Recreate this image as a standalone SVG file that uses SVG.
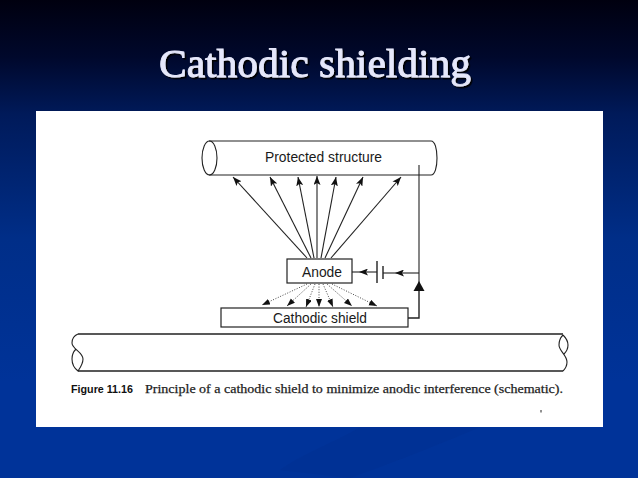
<svg xmlns="http://www.w3.org/2000/svg" width="638" height="478" viewBox="0 0 638 478">
<style>
.l{fill:none;stroke:#222;stroke-width:1.1}
.d{fill:none;stroke:#333;stroke-width:.9;stroke-dasharray:1 1.6}
.b{fill:#fff;stroke:#222;stroke-width:1.2}
.t{font-family:"Liberation Sans",Arial,sans-serif;font-size:14px;fill:#1a1a1a}
</style>
<defs>
<linearGradient id="bg" x1="0" y1="0" x2="0" y2="1">
<stop offset="0" stop-color="#00000f"/><stop offset=".12" stop-color="#00082c"/><stop offset=".24" stop-color="#001a5a"/><stop offset=".5" stop-color="#002e88"/><stop offset=".8" stop-color="#003399"/><stop offset="1" stop-color="#003399"/>
</linearGradient>
<filter id="sh" x="-5%" y="-20%" width="110%" height="140%"><feDropShadow dx="1.6" dy="1.6" stdDeviation=".3" flood-color="#000"/></filter>
<marker id="a" markerWidth="10" markerHeight="7" refX="9" refY="3.500" orient="auto" markerUnits="userSpaceOnUse"><path d="M0 0L9 3.500L0 7L2 3.500Z" fill="#111"/></marker>
<marker id="s" markerWidth="9" markerHeight="7" refX="8" refY="3" orient="auto" markerUnits="userSpaceOnUse"><path d="M0 0L8 3L0 6Z" fill="#111"/></marker>
</defs>
<rect width="638" height="478" fill="url(#bg)"/>
<path d="M350 478C400 460 450 440 480 427H360C340 440 300 455 280 470Z" fill="#002f8e" opacity=".4"/>
<text id="title" x="159" y="77" font-family="Liberation Serif,serif" font-size="41" fill="#e6e8fb" stroke="#e6e8fb" stroke-width=".9" textLength="312" lengthAdjust="spacingAndGlyphs" filter="url(#sh)">Cathodic shielding</text>
<rect id="panel" x="36" y="111" width="567" height="316" fill="#fff"/>
<g id="protected-structure">
<path class="l" d="M209 141H431C435 141 437 149 437 158C437 167 435 175 431 175H209"/>
<ellipse class="l" cx="209.500" cy="158" rx="7.500" ry="17"/>
<text class="t" x="265" y="162" textLength="117" lengthAdjust="spacingAndGlyphs">Protected structure</text>
</g>
<g id="connectors">
<path class="l" marker-end="url(#a)" d="M307 258L233 177"/>
<path class="l" marker-end="url(#a)" d="M311 258L270 177"/>
<path class="l" marker-end="url(#a)" d="M314 258L298 177"/>
<path class="l" marker-end="url(#a)" d="M317 258V176"/>
<path class="l" marker-end="url(#a)" d="M321 258L336 177"/>
<path class="l" marker-end="url(#a)" d="M325 258L363 177"/>
<path class="l" marker-end="url(#a)" d="M331 258L401 177"/>
<path class="d" marker-end="url(#s)" d="M307 284L262 305"/>
<path class="d" marker-end="url(#s)" d="M311 284L287 306"/>
<path class="d" marker-end="url(#s)" d="M315 284L306 307"/>
<path class="d" marker-end="url(#s)" d="M319 284V307"/>
<path class="d" marker-end="url(#s)" d="M323 284L333 307"/>
<path class="d" marker-end="url(#s)" d="M327 284L352 306"/>
<path class="d" marker-end="url(#s)" d="M332 284L377 306"/>
<path class="l" d="M419 165V288"/>
<path class="l" marker-end="url(#a)" d="M419 273H395"/>
<path class="l" d="M395 273H383"/>
<path class="l" marker-end="url(#a)" d="M377 272H359"/>
<path class="l" d="M359 272H352"/>
<path class="l" style="stroke-width:1.4" d="M377 261V283M383 266V279"/>
<path class="l" style="stroke-width:1.4" d="M408 318H419V288"/>
<path d="M419 281L424.500 291H413.500Z" fill="#111"/>
</g>
<g id="anode">
<rect class="b" x="287" y="259" width="65" height="24"/>
<text class="t" x="302" y="277" textLength="40" lengthAdjust="spacingAndGlyphs">Anode</text>
</g>
<g id="cathodic-shield">
<rect class="b" x="221" y="308" width="187" height="19"/>
<text class="t" x="273" y="323" textLength="94" lengthAdjust="spacingAndGlyphs">Cathodic shield</text>
</g>
<g id="pipe">
<path class="l" style="stroke-width:1.3" d="M78 334H563M78 371H563"/>
<path class="l" d="M78 334C73 336 72 340 72 343C72 349 83 352 83 359C83 364 80 368 78 371C74 368 72 363 72 359C72 355 74 351 76 349"/>
<path class="l" d="M563 335C560 338 559 342 559 345C559 351 567 355 567 362C567 366 565 369 563 371M563 335C566 338 568 342 568 345C568 349 566 352 564 354"/>
</g>
<g id="caption">
<text x="71" y="393" font-family="Liberation Sans,sans-serif" font-size="10.600" font-weight="700" fill="#111" textLength="62" lengthAdjust="spacingAndGlyphs">Figure 11.16</text>
<text x="145" y="393" font-family="Liberation Serif,serif" font-size="13" fill="#222" stroke="#222" stroke-width=".25" textLength="418" lengthAdjust="spacingAndGlyphs">Principle of a cathodic shield to minimize anodic interference (schematic).</text>
<path d="M541 410V412.500" stroke="#222" stroke-width="1"/>
</g>
</svg>
